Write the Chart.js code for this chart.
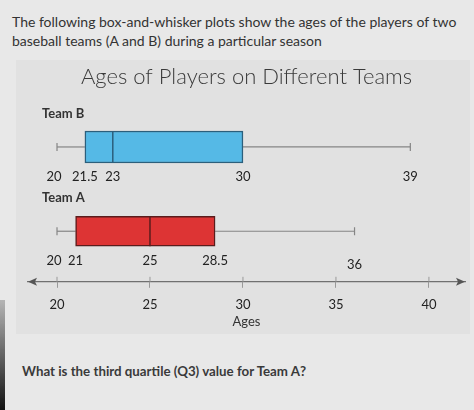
<!DOCTYPE html>
<html>
<head>
<meta charset="utf-8">
<script src="https://cdn.jsdelivr.net/npm/chart.js@4/dist/chart.umd.min.js"></script>
<style>
  body { margin: 0; width: 474px; height: 410px; background: #e8e8e8; font-family: Lato, "Open Sans", sans-serif; color: #333; overflow: hidden; position: relative; }
  #intro { position: absolute; left: 12px; top: 12px; width: 462px; font-size: 14px; line-height: 19px; color: #333; }
  #panel { position: absolute; left: 16px; top: 60px; width: 454px; height: 274px; background: #e1e1e1; }
  #wrap { position: absolute; left: 0; top: 60px; width: 474px; height: 280px; }
  #question { position: absolute; left: 22px; top: 363px; font-size: 13.3px; font-weight: bold; color: #3a3a3a; }
  #edge { position: absolute; left: 0; top: 300px; width: 5px; height: 110px; background: linear-gradient(#8888, #111); }
</style>
</head>
<body>
<div id="intro">The following box-and-whisker plots show the ages of the players of two baseball teams (A and B) during a particular season</div>
<div id="panel"></div>
<div id="wrap"><canvas id="chart"></canvas></div>
<div id="question">What is the third quartile (Q3) value for Team A?</div>
<div id="edge"></div>
<script>
// five-number summaries
const teams = ['Team B', 'Team A'];
const mins = [20, 20];
const q1s = [21.5, 21];
const medians = [23, 25];
const q3s = [30, 28.5];
const maxs = [39, 36];
const axisTicks = [20, 25, 30, 35, 40];

const fills = ['#55b9e6', '#dd3434'];
const edges = ['#2b5f7c', '#5a1c1c'];

const boxExtras = {
    id: 'boxExtras',
    beforeDatasetsDraw(chart) {
        const ctx = chart.ctx;
        const x = chart.scales.x, y = chart.scales.y;
        ctx.save();
        ctx.strokeStyle = '#858585';
        ctx.lineWidth = 1.2;
        for (let i = 0; i < teams.length; i++) {
            const yc = y.getPixelForValue(i);
            const segs = [[mins[i], q1s[i]], [q3s[i], maxs[i]]];
            for (const [a, b] of segs) {
                ctx.beginPath();
                ctx.moveTo(x.getPixelForValue(a), yc);
                ctx.lineTo(x.getPixelForValue(b), yc);
                ctx.stroke();
            }
            for (const v of [mins[i], maxs[i]]) {
                const px = x.getPixelForValue(v);
                ctx.beginPath();
                ctx.moveTo(px, yc - 4);
                ctx.lineTo(px, yc + 4);
                ctx.stroke();
            }
        }
        ctx.restore();
    },
    afterDatasetsDraw(chart) {
        const ctx = chart.ctx;
        const x = chart.scales.x, y = chart.scales.y;
        const area = chart.chartArea;
        ctx.save();
        for (let i = 0; i < teams.length; i++) {
            const yc = y.getPixelForValue(i);
            const half = i == 0 ? 16 : 15;
            // median
            ctx.strokeStyle = edges[i];
            ctx.lineWidth = 1.5;
            const mx = x.getPixelForValue(medians[i]);
            ctx.beginPath();
            ctx.moveTo(mx, yc - half);
            ctx.lineTo(mx, yc + half);
            ctx.stroke();

            // team name
            ctx.fillStyle = '#333';
            ctx.font = 'bold 13px Lato';
            ctx.textAlign = 'left';
            ctx.textBaseline = 'middle';
            ctx.fillText(teams[i], area.left + 14, yc - 33);

            // values under the box
            ctx.font = '13px Lato';
            ctx.fillStyle = '#222';
            ctx.textAlign = 'center';
            const vals = [mins[i], q1s[i], medians[i], q3s[i], maxs[i]];
            vals.forEach((v, k) => {
                let px = x.getPixelForValue(v);
                if (k == 0) px -= 3;
                const dy = (k == 4 && i == 1) ? 34 : 30;
                ctx.fillText(String(v), px, yc + dy);
            });
        }
        // small ticks across the number line
        ctx.strokeStyle = '#999';
        ctx.lineWidth = 1;
        for (const t of axisTicks) {
            const px = x.getPixelForValue(t);
            ctx.beginPath();
            ctx.moveTo(px, area.bottom - 5);
            ctx.lineTo(px, area.bottom);
            ctx.stroke();
        }
        // arrow heads on the number line
        ctx.fillStyle = '#555';
        const yb = area.bottom;
        ctx.beginPath();
        ctx.moveTo(area.left, yb);
        ctx.lineTo(area.left + 9, yb - 4);
        ctx.lineTo(area.left + 7, yb);
        ctx.lineTo(area.left + 9, yb + 4);
        ctx.closePath();
        ctx.fill();
        ctx.beginPath();
        ctx.moveTo(area.right, yb);
        ctx.lineTo(area.right - 9, yb - 4);
        ctx.lineTo(area.right - 7, yb);
        ctx.lineTo(area.right - 9, yb + 4);
        ctx.closePath();
        ctx.fill();
        ctx.restore();
    }
};

const ctx = document.getElementById('chart');

new Chart(ctx, {
    type: 'bar',
    data: {
        datasets: teams.map((t, i) => ({
            label: t,
            data: [{ x: [q1s[i], q3s[i]], y: i }],
            backgroundColor: fills[i],
            borderColor: edges[i],
            borderWidth: 1.5,
            borderSkipped: false,
            barThickness: i == 0 ? 32 : 30,
            grouped: false
        }))
    },
    options: {
        indexAxis: 'y',
        responsive: true,
        maintainAspectRatio: false,
        animation: false,
        layout: { padding: { left: 28, right: 9, top: 0, bottom: 6 } },
        plugins: {
            legend: { display: false },
            tooltip: { enabled: false },
            title: {
                display: true,
                text: 'Ages of Players on Different Teams',
                color: '#3a3a3a',
                font: { family: 'Lato', size: 22, weight: 300 },
                padding: { top: 4, bottom: 6 }
            }
        },
        scales: {
            x: {
                type: 'linear',
                min: 18.44,
                max: 41.94,
                afterBuildTicks: (scale) => {
                    scale.ticks = axisTicks.map(v => ({ value: v }));
                },
                border: { color: '#707070', width: 1.2 },
                grid: { drawOnChartArea: false, color: '#999', tickLength: 6 },
                ticks: { color: '#222', font: { family: 'Lato', size: 13 }, padding: 9 },
                title: {
                    display: true,
                    text: 'Ages',
                    color: '#333',
                    font: { family: 'Lato', size: 13 },
                    padding: { top: -7, bottom: 4 }
                }
            },
            y: {
                type: 'linear',
                reverse: true,
                offset: false,
                min: -0.6,
                max: 1.6,
                display: false
            }
        }
    },
    plugins: [boxExtras]
});
</script>
</body>
</html>
